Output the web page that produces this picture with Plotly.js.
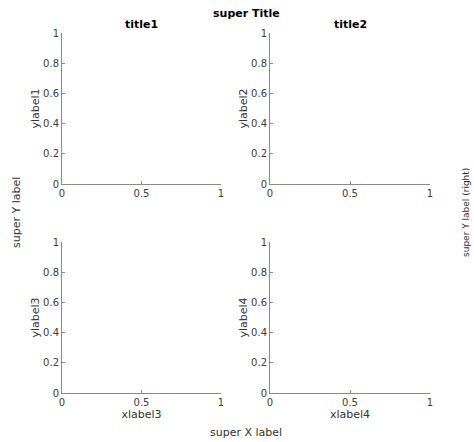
<!DOCTYPE html>
<html>
<head>
<meta charset="utf-8">
<script src="https://cdn.plot.ly/plotly-3.0.1.min.js"></script>
<style>html,body{margin:0;padding:0;background:#fff}#chart{width:474px;height:442px}</style>
</head>
<body>
<div id="chart"></div>
<script>
// Data (all subplots are empty axes)
const subplotTitles = ["title1", "title2", "", ""];
const xLabels = ["", "", "xlabel3", "xlabel4"];
const yLabels = ["ylabel1", "ylabel2", "ylabel3", "ylabel4"];
const xTickVals = [0, 0.5, 1];
const xTickText = ["0", "0.5", "1"];
const yTickVals = [0, 0.2, 0.4, 0.6, 0.8, 1];
const yTickText = ["0", "0.2", "0.4", "0.6", "0.8", "1"];
const superTitle = "super Title";
const superXLabel = "super X label";
const superYLabel = "super Y label";
const superYLabelRight = "super Y label (right)";
const xRange = [0, 1];
const yRange = [0, 1];

const W = 474, H = 442;
const px = v => v / W;
const py = v => 1 - v / H;
const xDomains = [[px(62), px(221)], [px(270), px(430)], [px(62), px(221)], [px(270), px(430)]];
const yDomains = [[py(184), py(33)], [py(184), py(33)], [py(393), py(242)], [py(393), py(242)]];

const font = "DejaVu Sans, sans-serif";
const lineCol = "#8a8a8a";
const tickCol = "#404040";

const data = [];
const layout = {
  width: W, height: H,
  margin: {l: 0, r: 0, t: 0, b: 0},
  paper_bgcolor: "#fff", plot_bgcolor: "#fff",
  showlegend: false,
  font: {family: font, size: 10, color: tickCol},
  annotations: []
};

for (let i = 0; i < 4; i++) {
  const n = i === 0 ? "" : String(i + 1);
  data.push({type: "scatter", mode: "markers", x: [], y: [], xaxis: "x" + n, yaxis: "y" + n});
  const common = {
    showgrid: false, zeroline: false, showline: true, linecolor: lineCol, linewidth: 1,
    ticks: "inside", ticklen: 3, tickcolor: lineCol, tickwidth: 1,
    tickfont: {family: font, size: 10, color: tickCol},
    fixedrange: true, automargin: false
  };
  layout["xaxis" + n] = Object.assign({}, common, {
    domain: xDomains[i], range: xRange, anchor: "y" + n,
    tickmode: "array", tickvals: xTickVals, ticktext: xTickText,
    title: {text: xLabels[i], font: {family: font, size: 11, color: "#333"}, standoff: 2}
  });
  layout["yaxis" + n] = Object.assign({}, common, {
    domain: yDomains[i], range: yRange, anchor: "x" + n,
    tickmode: "array", tickvals: yTickVals, ticktext: yTickText,
    title: {text: yLabels[i], font: {family: font, size: 11, color: "#333"}, standoff: 1}
  });
  if (subplotTitles[i]) {
    layout.annotations.push({
      text: "<b>" + subplotTitles[i] + "</b>", xref: "paper", yref: "paper",
      x: (xDomains[i][0] + xDomains[i][1]) / 2, y: py(24), xanchor: "center", yanchor: "middle",
      showarrow: false, font: {family: font, size: 11, color: "#000"}
    });
  }
}

layout.annotations.push(
  {text: "<b>" + superTitle + "</b>", xref: "paper", yref: "paper", x: px(246), y: py(13),
   xanchor: "center", yanchor: "middle", showarrow: false, font: {family: font, size: 11, color: "#000"}},
  {text: superXLabel, xref: "paper", yref: "paper", x: px(246), y: py(432),
   xanchor: "center", yanchor: "middle", showarrow: false, font: {family: font, size: 11, color: "#333"}},
  {text: superYLabel, xref: "paper", yref: "paper", x: px(16), y: py(213), textangle: -90,
   xanchor: "center", yanchor: "middle", showarrow: false, font: {family: font, size: 11, color: "#333"}},
  {text: superYLabelRight, xref: "paper", yref: "paper", x: px(473), y: py(213), textangle: -90,
   xanchor: "right", yanchor: "middle", showarrow: false, font: {family: font, size: 9, color: "#333"}}
);

Plotly.newPlot("chart", data, layout, {displayModeBar: false, staticPlot: true});
</script>
</body>
</html>
